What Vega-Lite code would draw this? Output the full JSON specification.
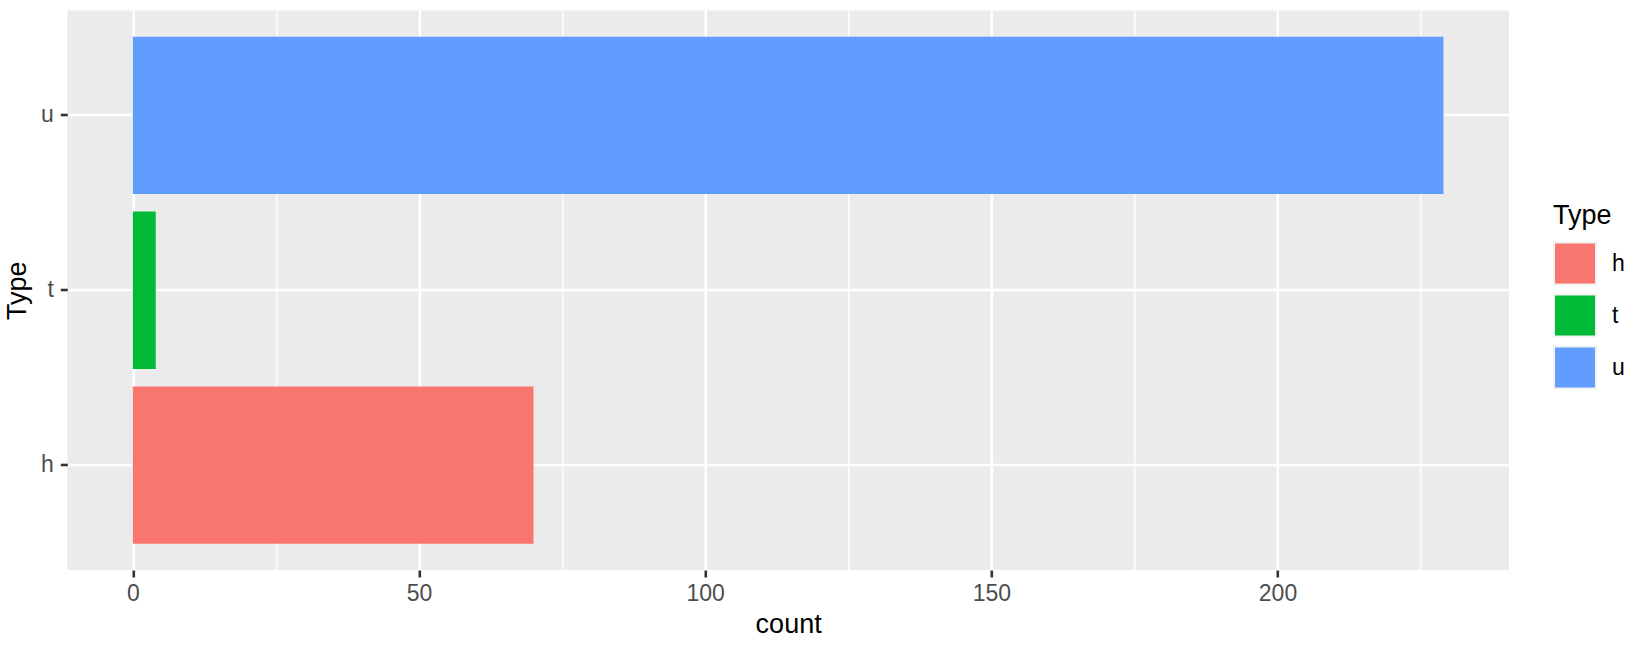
{
  "$schema": "https://vega.github.io/schema/vega-lite/v6.json",
  "autosize": "none",
  "width": 1441.7,
  "height": 559.5,
  "padding": {"left": 67.3, "top": 10.5, "right": 143, "bottom": 76},
  "background": "white",
  "config": {
    "font": "Liberation Sans",
    "view": {"fill": "#EBEBEB", "stroke": null},
    "axis": {
      "domain": false,
      "gridColor": "white",
      "tickColor": "#333333",
      "labelColor": "#4D4D4D",
      "labelFont": "Liberation Sans",
      "labelFontSize": 23,
      "titleFont": "Liberation Sans",
      "titleFontSize": 27,
      "titleFontWeight": "normal",
      "titleColor": "black"
    }
  },
  "data": {
    "values": [
      {"Type": "h", "count": 70},
      {"Type": "t", "count": 4},
      {"Type": "u", "count": 229}
    ]
  },
  "layer": [
    {
      "mark": {"type": "rule", "opacity": 0},
      "encoding": {
        "x": {
          "field": "count",
          "type": "quantitative",
          "scale": {"domain": [-11.45, 240.45], "nice": false, "zero": false},
          "axis": {
            "orient": "bottom",
            "values": [25, 75, 125, 175, 225],
            "grid": true,
            "gridWidth": 1.3,
            "labels": false,
            "ticks": false,
            "title": null
          }
        }
      }
    },
    {
      "mark": {"type": "bar"},
      "encoding": {
        "y": {
          "field": "Type",
          "type": "nominal",
          "sort": ["u", "t", "h"],
          "scale": {"paddingInner": 0.1, "paddingOuter": 0.15},
          "axis": {
            "title": "Type",
            "grid": true,
            "gridWidth": 2.6,
            "bandPosition": 0.5,
            "tickSize": 7,
            "tickWidth": 2.6,
            "labelPadding": 7,
            "titlePadding": 9
          }
        },
        "x": {
          "field": "count",
          "type": "quantitative",
          "scale": {"domain": [-11.45, 240.45], "nice": false, "zero": false},
          "axis": {
            "orient": "bottom",
            "values": [0, 50, 100, 150, 200],
            "grid": true,
            "gridWidth": 2.6,
            "tickSize": 7,
            "tickWidth": 2.6,
            "labelPadding": 5,
            "title": "count",
            "titlePadding": 6
          }
        },
        "x2": {"datum": 0},
        "color": {
          "field": "Type",
          "type": "nominal",
          "scale": {"domain": ["h", "t", "u"], "range": ["#F8766D", "#00BA38", "#619CFF"]},
          "legend": {
            "orient": "none",
            "legendX": 1485.7,
            "legendY": 192,
            "title": "Type",
            "titleFontSize": 27,
            "titleFontWeight": "normal",
            "titleColor": "black",
            "titlePadding": 12,
            "symbolType": "square",
            "symbolSize": 1764,
            "symbolStrokeColor": "#F2F2F2",
            "symbolStrokeWidth": 2,
            "symbolOpacity": 1,
            "labelFontSize": 23,
            "labelColor": "black",
            "labelOffset": 15,
            "rowPadding": 2
          }
        }
      }
    }
  ],
  "resolve": {"axis": {"x": "independent"}}
}
